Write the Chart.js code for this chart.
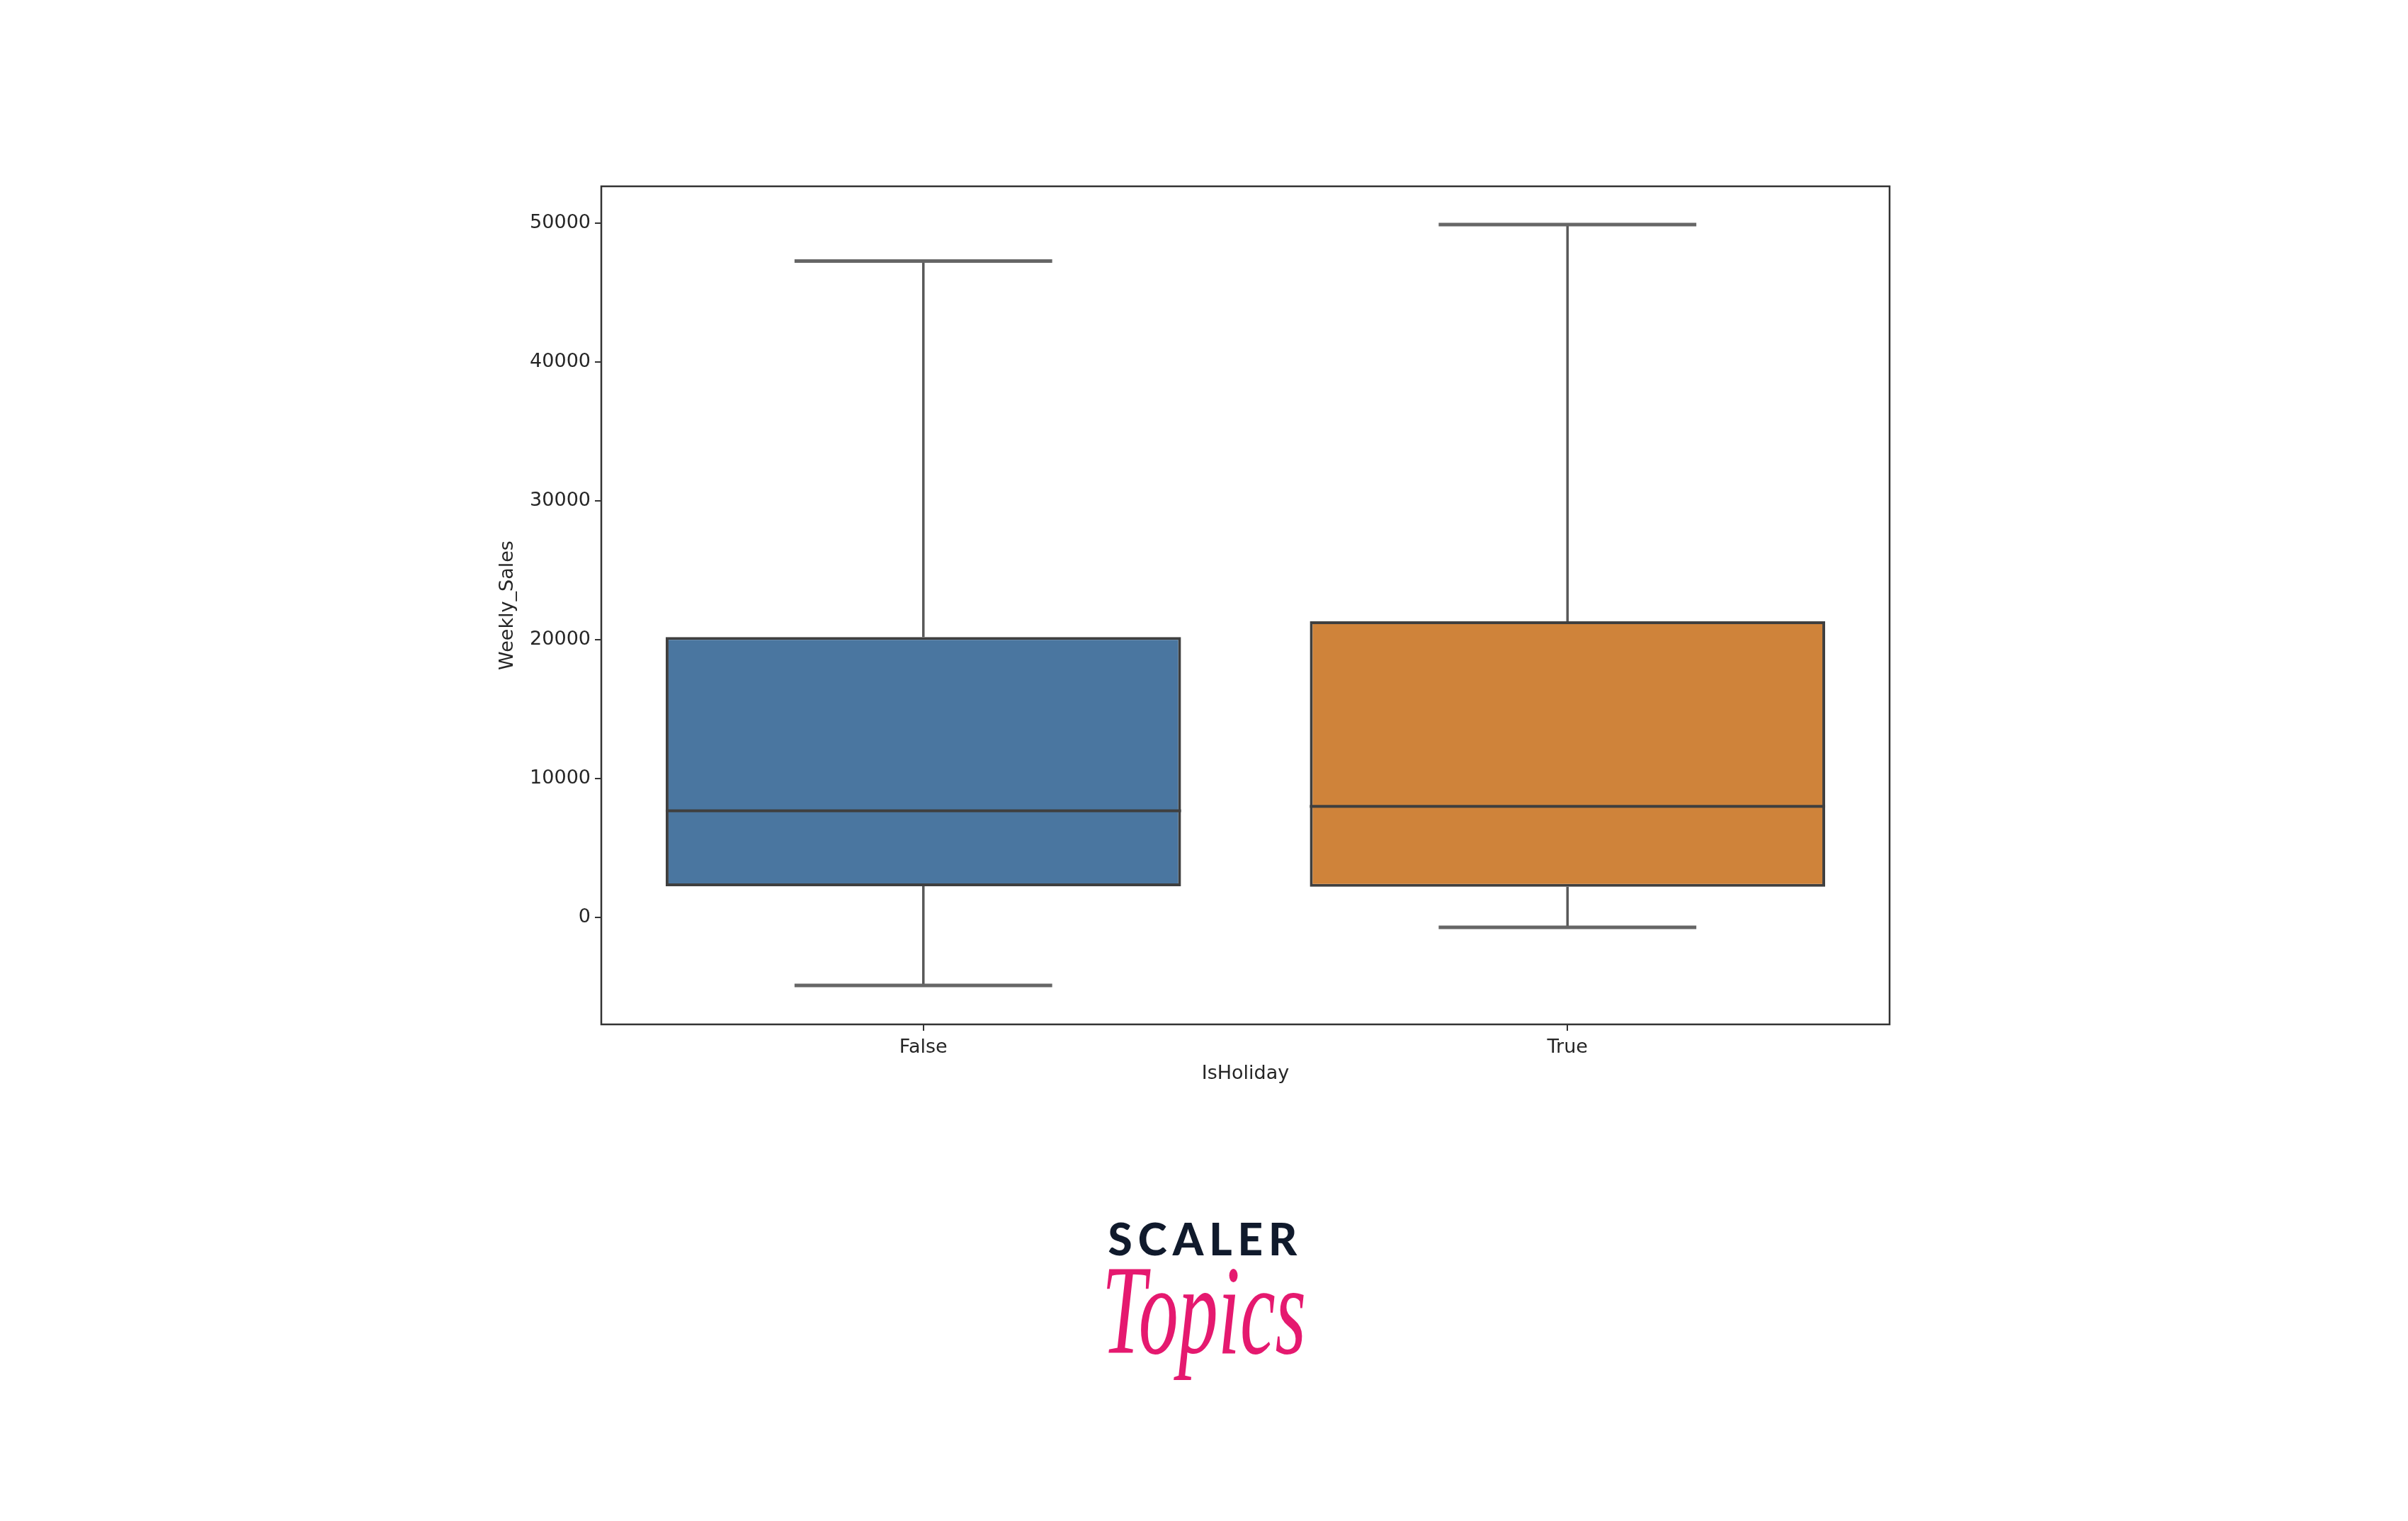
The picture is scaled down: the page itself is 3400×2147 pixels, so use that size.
<!DOCTYPE html>
<html>
<head>
<meta charset="utf-8">
<script src="https://cdn.jsdelivr.net/npm/chart.js"></script>
<style>
  body { margin: 0; background: #fff; }
  #wrap { position: relative; width: 3400px; height: 2147px; }
  #logo1 { position: absolute; left: 1502px; top: 1717px; width: 400px; text-align: center;
    font-family: Lato, sans-serif; font-weight: 900; font-size: 62px; line-height: 1;
    letter-spacing: 8px; color: #101a2c; }
  #logo2 { position: absolute; left: 1500px; top: 1760px; width: 400px; text-align: center;
    font-family: "Liberation Serif", serif; font-style: italic; font-size: 112px; line-height: 1;
    color: #e5196f; transform: scale(1, 1.6); transform-origin: 50% 0; }
</style>
</head>
<body>
<div id="wrap">
  <canvas id="myChart" width="3400" height="2147"></canvas>
  <div id="logo1">SCALER</div>
  <div id="logo2">Topics</div>
</div>
<script>
// values
const categories = ['False', 'True'];
const q1 = [2230, 2200];
const medians = [7670, 7990];
const q3 = [20190, 21320];
const whiskerLow = [-4910, -730];
const whiskerHigh = [47280, 49910];
const yTicks = [0, 10000, 20000, 30000, 40000, 50000];

const boxColors = ['rgb(74,118,160)', 'rgb(207,131,58)'];

const boxPlugin = {
  id: 'boxParts',
  beforeDatasetsDraw(chart) {
    const {ctx, scales: {x, y}} = chart;
    const half = (x.getPixelForValue(1) - x.getPixelForValue(0)) * 0.2;
    ctx.save();
    categories.forEach((_, i) => {
      const px = x.getPixelForValue(i);
      ctx.strokeStyle = '#595959';
      ctx.lineWidth = 3.5;
      ctx.beginPath();
      ctx.moveTo(px, y.getPixelForValue(whiskerLow[i]));
      ctx.lineTo(px, y.getPixelForValue(q1[i]));
      ctx.moveTo(px, y.getPixelForValue(q3[i]));
      ctx.lineTo(px, y.getPixelForValue(whiskerHigh[i]));
      ctx.stroke();
      ctx.strokeStyle = '#666';
      ctx.lineWidth = 5;
      ctx.beginPath();
      [whiskerLow[i], whiskerHigh[i]].forEach(v => {
        const py = y.getPixelForValue(v);
        ctx.moveTo(px - half, py);
        ctx.lineTo(px + half, py);
      });
      ctx.stroke();
    });
    ctx.restore();
  },
  afterDatasetsDraw(chart) {
    const {ctx, scales: {x, y}} = chart;
    const half = (x.getPixelForValue(1) - x.getPixelForValue(0)) * 0.4;
    ctx.save();
    ctx.strokeStyle = '#3f3f3f';
    ctx.lineWidth = 4;
    categories.forEach((_, i) => {
      const px = x.getPixelForValue(i);
      const py = y.getPixelForValue(medians[i]);
      ctx.beginPath();
      ctx.moveTo(px - half, py);
      ctx.lineTo(px + half, py);
      ctx.stroke();
    });
    const a = chart.chartArea;
    ctx.strokeStyle = '#333';
    ctx.lineWidth = 2.5;
    ctx.strokeRect(a.left, a.top, a.right - a.left, a.bottom - a.top);
    ctx.restore();
  }
};

const bg = {
  id: 'bg',
  beforeDraw(chart) {
    const ctx = chart.ctx;
    ctx.save();
    ctx.fillStyle = '#fff';
    ctx.fillRect(0, 0, chart.width, chart.height);
    ctx.restore();
  }
};

const font = {family: 'DejaVu Sans', size: 27};

new Chart(document.getElementById('myChart'), {
  type: 'bar',
  data: {
    labels: categories,
    datasets: [{
      data: categories.map((_, i) => [q1[i], q3[i]]),
      backgroundColor: boxColors,
      borderColor: '#3f3f3f',
      borderWidth: 4,
      borderSkipped: false,
      barPercentage: 0.8,
      categoryPercentage: 1
    }]
  },
  options: {
    responsive: false,
    devicePixelRatio: 1,
    animation: false,
    layout: {padding: {left: 701, top: 263, right: 732, bottom: 615}},
    plugins: {legend: {display: false}, tooltip: {enabled: false}},
    scales: {
      x: {
        grid: {display: true, offset: false, drawOnChartArea: false, tickLength: 9, tickColor: '#333', lineWidth: 2},
        border: {display: false},
        ticks: {color: '#262626', font: font, padding: 8},
        title: {display: true, text: 'IsHoliday', color: '#262626', font: font, padding: 0},
        afterFit(s) { s.height = 86; }
      },
      y: {
        min: -7720,
        max: 52660,
        afterBuildTicks(s) { s.ticks = yTicks.map(v => ({value: v})); },
        grid: {display: true, drawOnChartArea: false, tickLength: 9, tickColor: '#333', lineWidth: 2},
        border: {display: false},
        ticks: {color: '#262626', font: font, padding: 6, callback: v => String(v)},
        title: {display: true, text: 'Weekly_Sales', color: '#262626', font: font, padding: 0},
        afterFit(s) { s.width = 148; }
      }
    }
  },
  plugins: [bg, boxPlugin]
});
</script>
</body>
</html>
